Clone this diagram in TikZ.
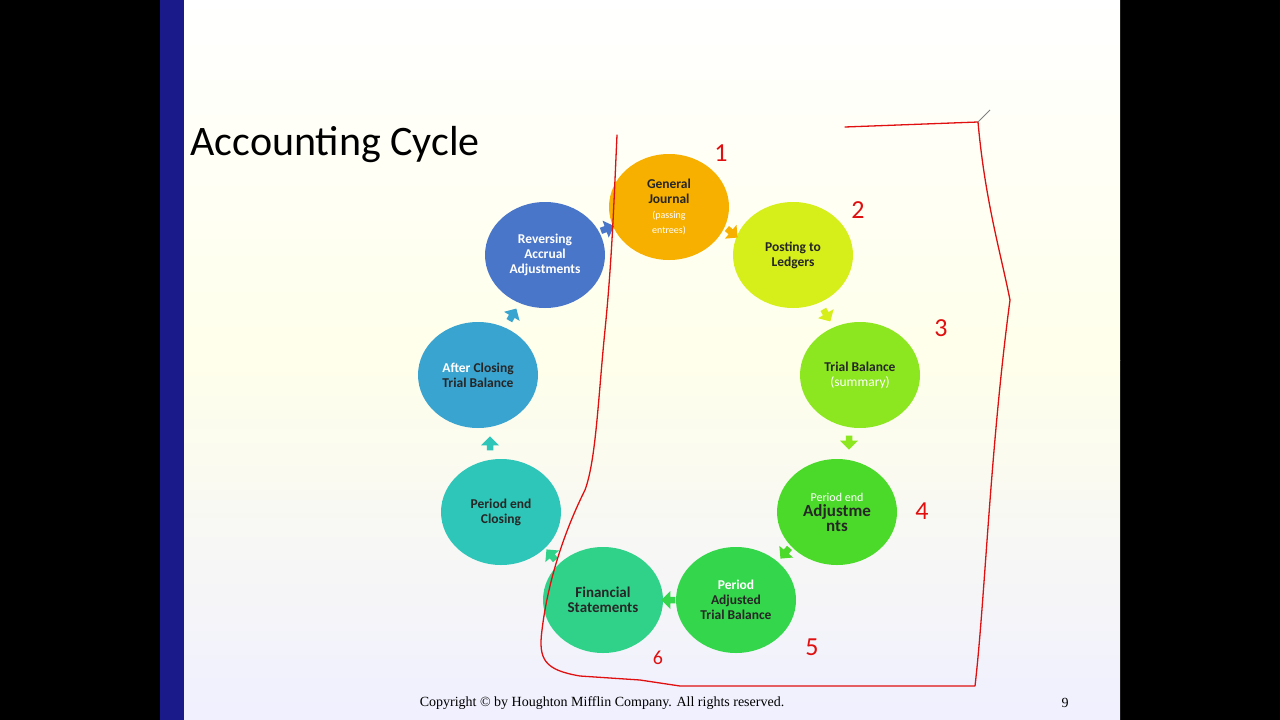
\documentclass[tikz,border=0pt]{standalone}
\usepackage{fontspec}
\setmainfont{Carlito}
\newfontfamily\serif{Liberation Serif}
\usetikzlibrary{shapes.arrows,shapes.geometric}
\definecolor{cGJ}{HTML}{F7B000}
\definecolor{cPL}{HTML}{D6EE1A}
\definecolor{cTB}{HTML}{8CE620}
\definecolor{cPEA}{HTML}{4CDA2A}
\definecolor{cPATB}{HTML}{34D64C}
\definecolor{cFS}{HTML}{30D28A}
\definecolor{cPEC}{HTML}{2EC6B8}
\definecolor{cAC}{HTML}{3AA4D0}
\definecolor{cRA}{HTML}{4A76CA}
\definecolor{ink}{HTML}{E01010}
\definecolor{stripe}{HTML}{1A1A8A}
\newcommand{\smalltxt}{\mdseries\fontsize{10}{11}\selectfont\color{white}}
\newcommand{\bigtxt}{\fontsize{17}{22}\selectfont}
\tikzset{
 stage/.style={ellipse,minimum width=120pt,minimum height=106pt,inner sep=0pt,align=center,font=\bfseries\fontsize{13.5}{15}\selectfont,text=black!85},
 flow/.style={single arrow,minimum height=14pt,minimum width=18pt,single arrow head extend=3pt,inner sep=1.5pt},
 hand/.style={ink,line width=1.3pt,line cap=round,line join=round},
 num/.style={text=ink,font=\fontsize{26}{26}\selectfont}
}
\begin{document}
\begin{tikzpicture}[x=1pt,y=-1pt]
\useasboundingbox (0,0) rectangle (1280,720);
\fill[black] (0,0) rectangle (1280,720);
\shade[top color=white,bottom color=yellow!8] (184,0) rectangle (1120,360);
\shade[top color=yellow!8,bottom color=blue!6] (184,360) rectangle (1120,720);
\fill[stripe] (160,0) rectangle (184,720);
\node[anchor=base west,font=\fontsize{42}{42}\selectfont] (title) at (187,155) {Accounting Cycle};
\node[stage,fill=cGJ] (gj) at (669,207) {General\\Journal\\\smalltxt (passing\\\smalltxt entrees)};
\node[stage,fill=cPL] (pl) at (793,255) {Posting to\\Ledgers};
\node[stage,fill=cTB] (tb) at (860,375) {Trial Balance\\\mdseries\color{white}(summary)};
\node[stage,fill=cPEA] (pea) at (837,512) {\mdseries\fontsize{12}{13}\selectfont\color{white}Period end\\\bigtxt Adjustme\\\bigtxt nts};
\node[stage,fill=cPATB] (patb) at (736,600) {\color{white}Period\\Adjusted\\Trial Balance};
\node[stage,fill=cFS] (fs) at (603,600) {\fontsize{15}{19}\selectfont Financial\\\fontsize{15}{19}\selectfont Statements};
\node[stage,fill=cPEC] (pec) at (501,512) {Period end\\Closing};
\node[stage,fill=cAC] (ac) at (478,375) {\textcolor{white}{After} Closing\\Trial Balance};
\node[stage,fill=cRA,text=white] (ra) at (545,255) {Reversing\\Accrual\\Adjustments};
\node[flow,fill=cGJ,rotate=-40] (a1) at (731,232) {};
\node[flow,fill=cPL,rotate=-60] (a2) at (826,314) {};
\node[flow,fill=cTB,rotate=-90] (a3) at (849,441) {};
\node[flow,fill=cPEA,rotate=-130] (a4) at (786,552) {};
\node[flow,fill=cPATB,rotate=180] (a5) at (670,600) {};
\node[flow,fill=cFS,rotate=130] (a6) at (552,556) {};
\node[flow,fill=cPEC,rotate=90] (a7) at (490,445) {};
\node[flow,fill=cAC,rotate=60] (a8) at (512,316) {};
\node[flow,fill=cRA,rotate=20] (a9) at (606,229) {};
\draw[hand] (617,135) .. controls (614,200) and (612,260) .. (605,330)
  .. controls (598,400) and (596,460) .. (585,490)
  .. controls (565,530) and (548,580) .. (542,630)
  .. controls (538,660) and (545,670) .. (580,676)
  -- (640,680) -- (680,686) -- (975,686)
  .. controls (985,600) and (990,450) .. (1010,300)
  .. controls (1000,250) and (985,200) .. (978,122)
  -- (845,127);
\draw[line width=0.8pt,gray] (978,122) -- (990,110);
\node[num] (n1) at (721,153) {1};
\node[num] (n2) at (858,210) {2};
\node[num] (n3) at (941,328) {3};
\node[num] (n4) at (922,511) {4};
\node[num] (n5) at (812,647) {5};
\node[num,font=\fontsize{20}{20}\selectfont] (n6) at (658,658) {6};
\node[font=\serif\fontsize{14}{14}\selectfont] (copy) at (602,703) {Copyright © by Houghton Mifflin Company. All rights reserved.};
\node[font=\serif\fontsize{14}{14}\selectfont] (pg) at (1065,703) {9};
\end{tikzpicture}
\end{document}
